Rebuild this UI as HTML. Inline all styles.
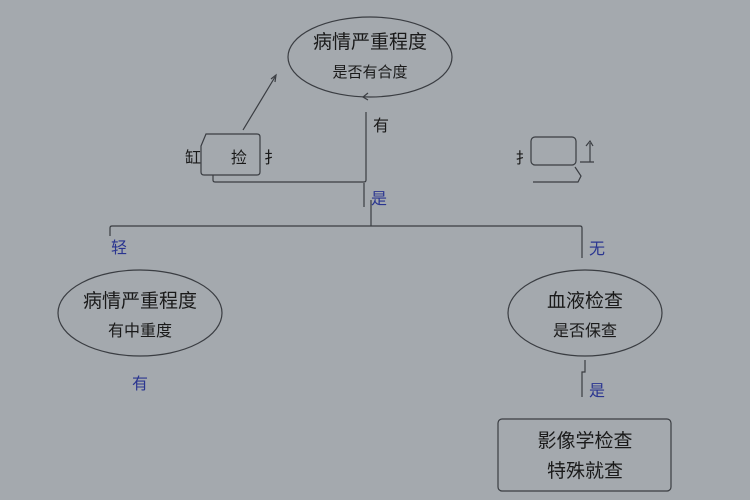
<!DOCTYPE html>
<html><head><meta charset="utf-8"><style>
body{margin:0;background:#a4a9ae;}
svg{display:block}
text{font-family:"Liberation Sans","Noto Sans CJK SC",sans-serif;}
</style></head><body>
<svg width="750" height="500" viewBox="0 0 750 500">
<rect width="750" height="500" fill="#a4a9ae"/>
<g fill="none" stroke="#3a3d42" stroke-width="1.2">
<ellipse cx="370" cy="57" rx="82" ry="40"/>
<ellipse cx="140" cy="313" rx="82" ry="43"/>
<ellipse cx="585" cy="313" rx="77" ry="43"/>
<rect x="498" y="419" width="173" height="72" rx="4"/>
<path d="M206,134 H257 Q260,134 260,137 V172 Q260,175 257,175 H204 Q201,175 201,172 V146 Z"/>
<rect x="531" y="137" width="45" height="28" rx="4"/>
<path d="M366,112 V180 Q366,182 364,182 H215 Q213,182 213,180 V175"/>
<path d="M364,183 V207"/>
<path d="M371,200 V226"/>
<path d="M110,236 V228 Q110,226 112,226 H580 Q582,226 582,228 V258"/>
<path d="M243,130 L275,77"/>
<path d="M271,79 L276,75 L275,82"/>
<path d="M585,360 V372 H582 V397"/>
<path d="M533,182 H578 L581,176 L575,167"/>
<path d="M580,162 H594 M590,162 V143 M586,146 L590,141 L593,146"/>
<path d="M368,93 L363,97 L368,100"/>
</g>
<g fill="#1a1a1a" text-anchor="middle">
<text x="370" y="48" font-size="19">病情严重程度</text>
<text x="370" y="77" font-size="15">是否有合度</text>
<text x="140" y="307" font-size="19">病情严重程度</text>
<text x="140" y="336" font-size="16">有中重度</text>
<text x="585" y="307" font-size="19">血液检查</text>
<text x="585" y="336" font-size="16">是否保查</text>
<text x="585" y="447" font-size="19">影像学检查</text>
<text x="585" y="477" font-size="19">特殊就查</text>
<text x="381" y="131" font-size="16">有</text>
<text x="193" y="163" font-size="16">缸</text>
<text x="239" y="163" font-size="16">捡</text>
<text x="272" y="163" font-size="16">扌</text>
<text x="523" y="163" font-size="15">扌</text>
</g>
<g fill="#2a3590" text-anchor="middle" font-size="16">
<text x="379" y="204">是</text>
<text x="119" y="253">轻</text>
<text x="597" y="254">无</text>
<text x="140" y="389">有</text>
<text x="597" y="396">是</text>
</g>
</svg>
</body></html>
